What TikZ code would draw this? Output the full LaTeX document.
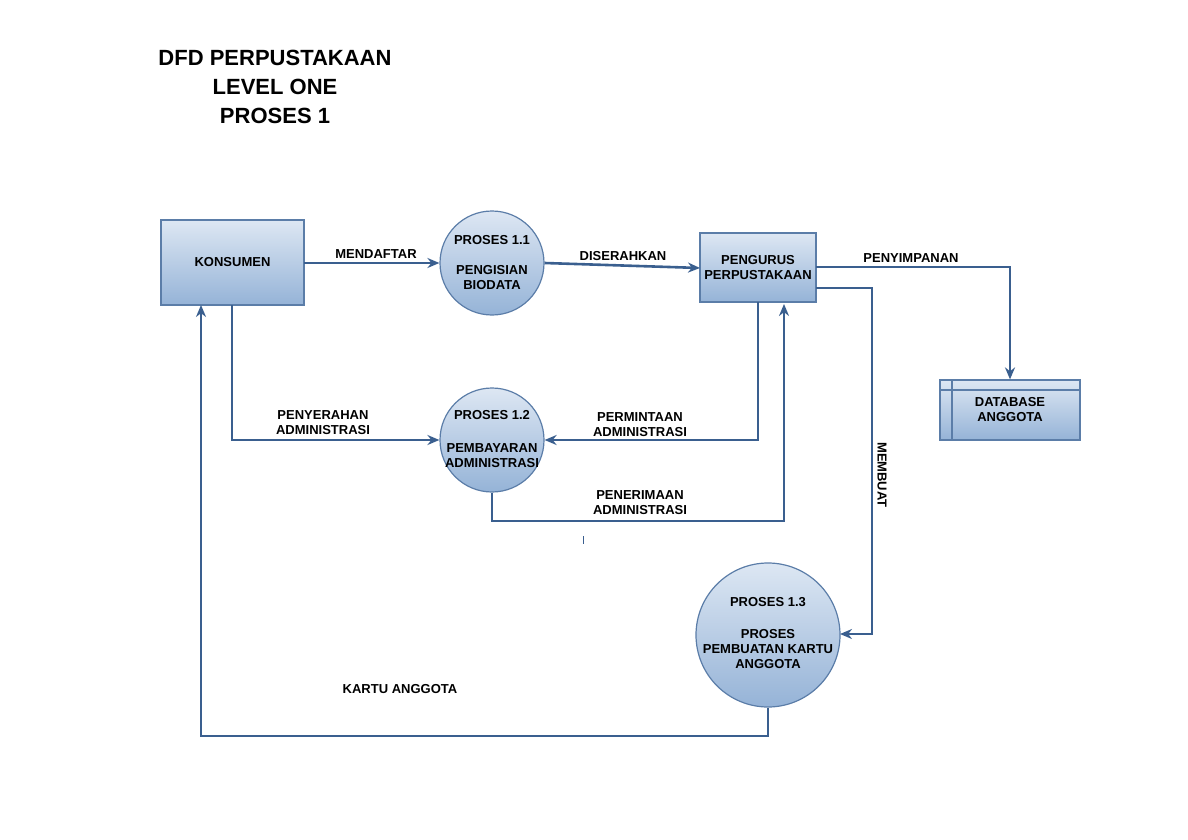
\documentclass[tikz,border=0pt]{standalone}
\usepackage{fontspec}
\setmainfont{Liberation Sans}
\usetikzlibrary{arrows.meta}
\definecolor{ln}{HTML}{3A5F8F}
\definecolor{bd}{HTML}{5B7DA8}
\definecolor{tp}{HTML}{DDE7F3}
\definecolor{bt}{HTML}{95B3D7}
\tikzset{
 ent/.style={draw=bd,line width=0.6pt,top color=tp,bottom color=bt,font=\bfseries\fontsize{6.5}{7.5}\selectfont,align=center,inner sep=0pt},
 proc/.style={ent,circle},
 flow/.style={draw=ln,line width=1.3pt,-{Stealth[length=6pt,width=5pt]}},
 lbl/.style={font=\bfseries\fontsize{6.5}{7.5}\selectfont,align=center,inner sep=0pt},
}
\begin{document}
\begin{tikzpicture}[x=0.5pt,y=-0.5pt]
\useasboundingbox (0,0) rectangle (1188,840);
\node[font=\bfseries\fontsize{11}{14.5}\selectfont,align=center] (title) at (275,87) {DFD PERPUSTAKAAN\\LEVEL ONE\\PROSES 1};
\node[ent,minimum width=71.5pt,minimum height=42.5pt] (kon) at (232.5,262.5) {KONSUMEN};
\node[ent,minimum width=58pt,minimum height=34.5pt] (peng) at (758,267.5) {PENGURUS\\PERPUSTAKAAN};
\node[proc,minimum size=52pt] (p11) at (492,263) {};
\node[lbl] at (492,240) {PROSES 1.1};
\node[lbl] at (492,278) {PENGISIAN\\BIODATA};
\node[proc,minimum size=52pt] (p12) at (492,440) {};
\node[lbl] at (492,415) {PROSES 1.2};
\node[lbl] at (492,456) {PEMBAYARAN\\ADMINISTRASI};
\node[proc,minimum size=72pt] (p13) at (768,635) {};
\node[lbl] at (768,602) {PROSES 1.3};
\node[lbl] at (768,649) {PROSES\\PEMBUATAN KARTU\\ANGGOTA};
\node[ent,minimum width=70pt,minimum height=30pt] (db) at (1010,410) {DATABASE\\ANGGOTA};
\draw[draw=bd,line width=0.6pt] (952,380) -- (952,440) (940,390) -- (1080,390);
% flows
\draw[flow] (304,263) -- (p11.west);
\node[lbl] at (376,254) {MENDAFTAR};
\draw[flow] (p11.east) -- (700,268);
\node[lbl] at (623,256) {DISERAHKAN};
\draw[flow] (816,267) -- (1010,267) -- (db.north);
\node[lbl] at (911,258) {PENYIMPANAN};
\draw[flow] (816,288) -- (872,288) -- (872,634) -- (840,634);
\node[lbl,rotate=-90] at (882,475) {MEMBUAT};
\draw[flow] (758,302) -- (758,440) -- (p12.east);
\node[lbl] at (640,425) {PERMINTAAN\\ADMINISTRASI};
\draw[flow] (p12.south) -- (492,521) -- (784,521) -- (784,304);
\node[lbl] at (640,503) {PENERIMAAN\\ADMINISTRASI};
\draw[flow] (232,305) -- (232,440) -- (p12.west);
\node[lbl] at (323,423) {PENYERAHAN\\ADMINISTRASI};
\draw[flow] (p13.south) -- (768,736) -- (201,736) -- (201,305);
\node[lbl] at (400,689) {KARTU ANGGOTA};
\draw[ln,line width=0.5pt] (583,536) -- (583,544);
\end{tikzpicture}
\end{document}
